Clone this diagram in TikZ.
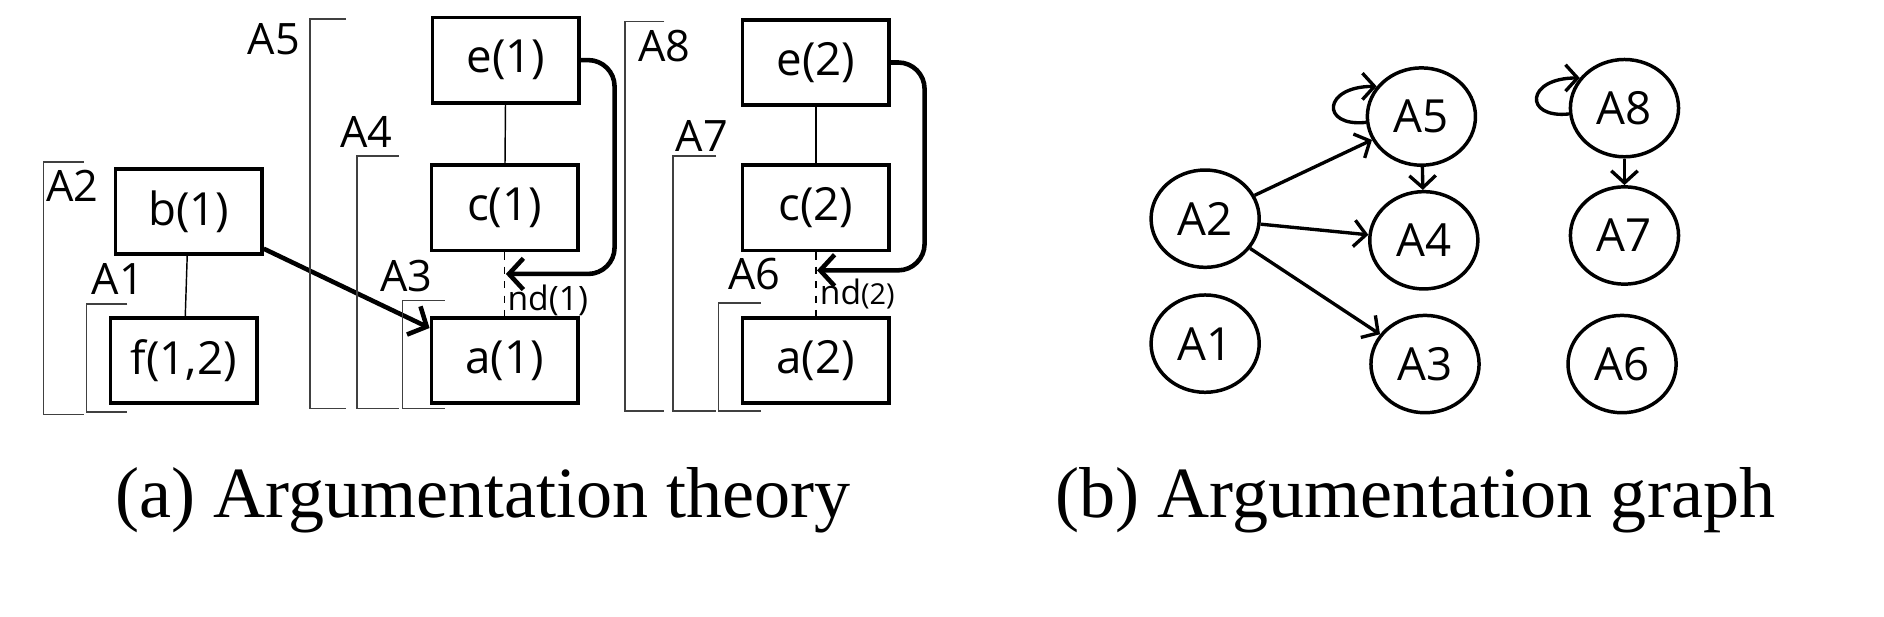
\documentclass[tikz,border=0pt]{standalone}
\usepackage{fontspec}
\setmainfont{Liberation Serif}
\setsansfont{Open Sans}
\usetikzlibrary{arrows.meta,shapes.geometric}

\newcommand{\argbracket}[4]{\draw[bracketline] (#1+#3,#2) -- (#1,#2) -- (#1,#4) -- (#1+#3,#4);}

\begin{document}
\begin{tikzpicture}[x=0.5pt,y=-0.5pt,
  rule/.style={draw,line width=1.5pt,minimum width=61pt,minimum height=35.5pt,inner sep=0pt,font=\sffamily\fontsize{19}{19}\selectfont},
  arg/.style={draw,ellipse,line width=1.45pt,minimum width=45pt,minimum height=40.5pt,inner sep=0pt,font=\sffamily\fontsize{19}{19}\selectfont},
  arglabel/.style={inner sep=0pt,font=\sffamily\fontsize{18}{18}\selectfont},
  ndlabel/.style={inner sep=0pt,anchor=west,font=\sffamily\fontsize{14}{14}\selectfont},
  bracketline/.style={draw=black!75,line width=0.6pt},
  attack/.style={line width=1.9pt,-{Straight Barb[length=6pt,width=13pt]}},
  attackedge/.style={line width=1.4pt,-{Straight Barb[length=5pt,width=11pt]}},
  caption/.style={font=\fontsize{30}{30}\selectfont}]
\useasboundingbox (0,0) rectangle (1568,513);

% (a) argumentation theory
\node[rule] (e1) at (421,50) {e(1)};
\node[rule] (c1) at (420,173) {c(1)};
\node[rule] (a1) at (420,300) {a(1)};
\node[rule] (b1) at (157,176) {b(1)};
\node[rule] (f1) at (153,300) {f(1,2)};
\node[rule] (e2) at (679,52) {e(2)};
\node[rule] (c2) at (679,173) {c(2)};
\node[rule] (a2) at (679,300) {a(2)};

\draw[line width=0.6pt] (b1) -- (f1);
\draw[line width=0.6pt] (e1) -- (c1);
\draw[line width=0.6pt] (e2) -- (c2);
\draw[dashed,line width=0.6pt] (c1) -- (a1);
\draw[dashed,line width=0.6pt] (c2) -- (a2);
\coordinate (nd1) at (421,228);
\coordinate (nd2) at (680,225);
\node[ndlabel] (ndlab1) at (422,250) {nd(1)};
\node[ndlabel] (ndlab2) at (682,245) {nd{\fontsize{12}{12}\selectfont(2)}};

\draw[attack] ([yshift=3pt]b1.south east) -- ([yshift=-5pt]a1.north west);
\draw[attack,rounded corners=11pt] (e1.east) -- ++(28,0) |- (nd1);
\draw[attack,rounded corners=11pt] (e2.east) -- ++(28,0) |- (nd2);

% brackets of the arguments
\argbracket{36}{135}{34}{345}
\argbracket{72}{253}{34}{343}
\argbracket{258}{16}{30}{340}
\argbracket{297}{130}{35}{340}
\argbracket{335}{250}{35}{340}
\argbracket{520}{18}{33}{342}
\argbracket{560}{130}{36}{342}
\argbracket{598}{252}{35}{342}
\node[arglabel] (lA2) at (60,155) {A2};
\node[arglabel] (lA1) at (98,232) {A1};
\node[arglabel] (lA5) at (228,33) {A5};
\node[arglabel] (lA4) at (305,110) {A4};
\node[arglabel] (lA3) at (338,230) {A3};
\node[arglabel] (lA8) at (553,38) {A8};
\node[arglabel] (lA7) at (584,113) {A7};
\node[arglabel] (lA6) at (628,228) {A6};

% (b) argumentation graph
\node[arg] (A2) at (1003,182) {A2};
\node[arg] (A1) at (1003,286) {A1};
\node[arg] (A5) at (1183,97) {A5};
\node[arg] (A4) at (1185,200) {A4};
\node[arg] (A3) at (1186,303) {A3};
\node[arg] (A8) at (1352,90) {A8};
\node[arg] (A7) at (1352,196) {A7};
\node[arg] (A6) at (1350,303) {A6};

\draw[attackedge] (A2) -- (A5);
\draw[attackedge] (A2) -- (A4);
\draw[attackedge] (A2) -- (A3);
\draw[attackedge] (A5) -- (A4);
\draw[attackedge] (A8) -- (A7);
\draw[attackedge] (A5.186) .. controls +(-38,4) and +(-45,0) .. (A5.146);
\draw[attackedge] (A8.186) .. controls +(-38,4) and +(-45,0) .. (A8.146);

\node[caption] (capa) at (402,416) {(a) Argumentation theory};
\node[caption] (capb) at (1178,416) {(b) Argumentation graph};
\end{tikzpicture}
\end{document}
